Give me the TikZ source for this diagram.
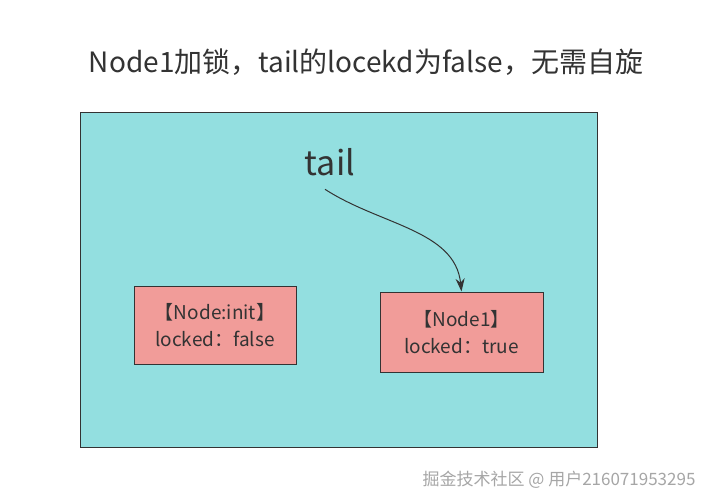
\documentclass[tikz,border=0pt]{standalone}
\usepackage{fontspec}
\setmainfont{Noto Sans CJK SC}
\usetikzlibrary{arrows.meta}
\definecolor{bg}{HTML}{93DFE0}
\definecolor{rb}{HTML}{F19C99}
\definecolor{tx}{HTML}{333333}
\tikzset{box/.style={draw=tx,fill=rb,line width=1pt,align=center,font=\fontsize{19}{27}\selectfont,text=tx,inner sep=0pt}}
\begin{document}
\begin{tikzpicture}[x=1pt,y=-1pt]
\useasboundingbox (0,0) rectangle (712,503);
\fill[white] (0,0) rectangle (712,503);
\node[text=tx,font=\fontsize{28}{32}\selectfont] (title) at (366,62) {Node1加锁，tail的locekd为false，无需自旋};
\draw[draw=tx,fill=bg,line width=1pt] (80,112) rectangle (597,447);
\node[box,minimum width=162pt,minimum height=78pt] (n0) at (215,325) {【Node:init】\\locked：false};
\node[box,minimum width=163pt,minimum height=80pt] (n1) at (461.5,332) {【Node1】\\locked：true};
\node[text=tx,font=\fontsize{34}{40}\selectfont] (tail) at (330,162) {tail};
\draw[tx,line width=1pt,-{Stealth[length=13pt,width=9pt]}] (tail.south) ++(-5,10) .. controls (380,225) and (455,230) .. (n1.north);
\node[text=gray!70,font=\fontsize{17}{20}\selectfont,anchor=east] (wm) at (699,480) {掘金技术社区 @ 用户216071953295};
\end{tikzpicture}
\end{document}
